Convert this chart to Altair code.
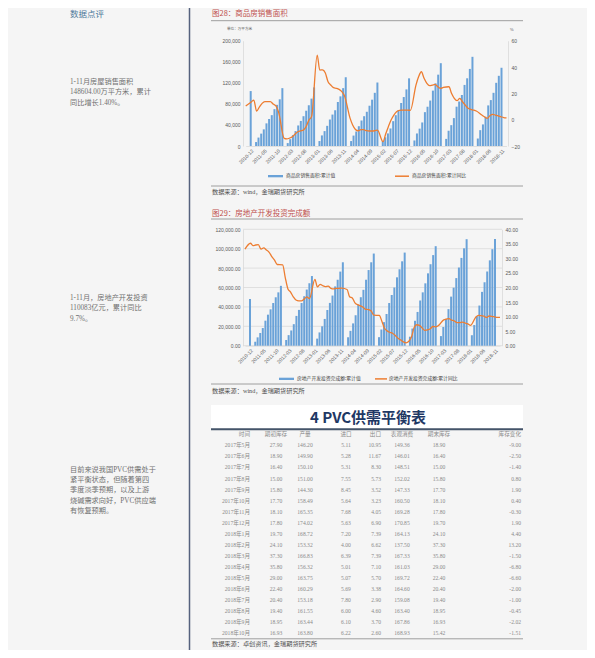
import altair as alt
import pandas as pd

# ---------------- data ----------------
months = [d.strftime("%Y-%m-%d") for d in pd.date_range("2010-12-01", "2018-11-01", freq="MS")]

# 商品房销售面积:累计值 (万平方米), Jan has no data
sales_cum = [
    104349,
    None, 7500, 16000, 23500, 31600, 43000, 51300, 58600, 70000, 78200, 88700, 109900,
    None, 5500, 13000, 20700, 28300, 39000, 47600, 56600, 67000, 77400, 90000, 111300,
    None, 9400, 20100, 28300, 38300, 50300, 59700, 67900, 83600, 94300, 109900, 130600,
    None, 9400, 19800, 27500, 37600, 48400, 56600, 65000, 76500, 88000, 101000, 120600,
    None, 9400, 16500, 23900, 33300, 47200, 58500, 67900, 81700, 93000, 107500, 128500,
    None, 10500, 23800, 33000, 44700, 64300, 74600, 86300, 105200, 119000, 135500, 157300,
    None, 13500, 29000, 39600, 53000, 74700, 84500, 96900, 116000, 128600, 146400, 169400,
    None, 14200, 30100, 41000, 55500, 77100, 87200, 101000, 120000, 133300, 148600,
]
# 商品房销售面积:累计同比 (%)
sales_yoy = [
    10.4,
    None, 13.5, 14.9, 6.6, 9.5, 12.4, 13.7, 13.7, 13.7, 11.9, 10.4, 5.6,
    None, -14.2, -14.6, -14.0, -13.0, -10.9, -9.2, -8.5, -7.9, -5.3, -0.3, 2.5,
    None, 49.1, 37.7, 37.9, 35.7, 28.8, 26.3, 24.3, 23.8, 23.0, 21.3, 18.0,
    None, 1.0, -4.0, -7.4, -8.4, -7.6, -7.6, -8.4, -8.6, -8.6, -8.4, -8.0,
    None, -16.7, -11.1, -5.3, -0.3, 3.5, 6.0, 7.1, 7.2, 7.2, 7.2, 7.1,
    None, 26.3, 32.6, 36.4, 31.4, 27.6, 25.8, 26.3, 26.8, 25.0, 23.8, 24.5,
    None, 25.0, 20.0, 16.2, 14.4, 16.2, 13.6, 11.1, 8.6, 7.8, 7.3, 6.6,
    None, 3.5, 2.2, 1.0, 3.0, 4.1, 3.5, 2.9, 2.2, 1.6, 1.4,
]
# 房地产开发投资完成额:累计值 (亿元)
inv_cum = [
    48259,
    None, 4100, 8600, 13100, 18200, 25800, 32000, 37500, 44000, 49900, 55000, 61700,
    None, 5900, 10900, 15700, 22200, 30700, 36900, 44000, 51000, 57900, 64400, 71800,
    None, 7300, 13700, 20000, 27600, 36800, 44100, 51700, 61100, 68000, 76400, 86000,
    None, 8700, 15300, 23000, 31400, 42000, 50000, 57600, 68000, 78000, 86000, 95000,
    None, 8800, 16700, 24300, 32700, 44000, 52300, 60000, 70500, 78800, 87000, 96000,
    None, 9300, 17700, 25700, 34800, 46600, 55000, 64300, 74600, 84000, 93400, 102600,
    None, 9900, 19300, 27700, 37700, 50600, 59800, 69700, 80600, 90500, 100400, 109800,
    None, 10800, 21300, 30600, 41400, 55500, 65400, 76500, 88000, 99500, 110100,
]
# 房地产开发投资完成额:累计同比 (%)
inv_yoy = [
    33.2,
    None, 35.2, 34.4, 34.6, 34.7, 33.2, 33.6, 32.9, 32.1, 30.6, 29.4, 27.9,
    None, 27.8, 23.5, 19.5, 18.4, 16.8, 15.7, 15.4, 15.4, 16.0, 16.8, 16.2,
    None, 22.8, 20.2, 21.1, 20.6, 20.3, 20.5, 19.7, 19.5, 19.7, 19.7, 19.8,
    None, 19.3, 16.8, 16.4, 14.7, 14.1, 13.7, 13.2, 12.5, 12.4, 11.9, 10.5,
    None, 10.4, 8.5, 6.0, 5.1, 4.6, 4.3, 3.5, 2.6, 2.0, 1.3, 1.0,
    None, 3.0, 6.2, 7.2, 7.0, 6.1, 5.3, 5.4, 5.8, 6.6, 6.5, 6.9,
    None, 8.9, 9.1, 9.3, 8.8, 8.5, 7.9, 7.9, 8.1, 7.8, 7.5, 7.0,
    None, 9.9, 10.4, 10.3, 10.2, 9.7, 10.2, 10.1, 9.9, 9.7, 9.7,
]

sales_left_ticks = [0, 40000, 80000, 120000, 160000, 200000]
sales_right_ticks = [-20, 0, 20, 40, 60]
inv_left_ticks = [0, 20000, 40000, 60000, 80000, 100000, 120000]
inv_right_ticks = [0, 5, 10, 15, 20, 25, 30, 35, 40]

tbl_header = ["时间", "期初库存", "产量", "进口", "出口", "表观消费", "期末库存", "库存变化"]
tbl_time = ["2017年5月", "2017年6月", "2017年7月", "2017年8月", "2017年9月", "2017年10月",
            "2017年11月", "2017年12月", "2018年1月", "2018年2月", "2018年3月", "2018年4月",
            "2018年5月", "2018年6月", "2018年7月", "2018年8月", "2018年9月", "2018年10月"]
tbl_open = [27.90, 18.90, 16.40, 15.00, 15.80, 17.70, 18.10, 17.80, 19.70, 24.10, 37.30, 35.80,
            29.00, 22.40, 20.40, 19.40, 18.95, 16.93]
tbl_prod = [146.20, 149.90, 150.10, 151.00, 144.30, 158.49, 165.35, 174.02, 168.72, 153.32, 166.83,
            156.32, 163.75, 160.29, 153.18, 161.55, 163.44, 163.80]
tbl_imp = [5.11, 5.28, 5.31, 7.55, 8.45, 5.64, 7.68, 5.63, 7.20, 4.00, 6.39, 5.01, 5.07, 5.69,
           7.80, 6.00, 6.10, 6.22]
tbl_exp = [10.95, 11.67, 8.30, 5.73, 3.52, 3.23, 4.05, 6.90, 7.39, 6.62, 7.39, 7.10, 5.70, 3.38,
           2.90, 4.60, 3.70, 2.60]
tbl_cons = [149.36, 146.01, 148.51, 152.02, 147.33, 160.50, 169.28, 170.85, 164.13, 137.50, 167.33,
            161.03, 169.72, 164.60, 159.08, 163.40, 167.86, 168.93]
tbl_close = [18.90, 16.40, 15.00, 15.80, 17.70, 18.10, 17.80, 19.70, 24.10, 37.30, 35.80, 29.00,
             22.40, 20.40, 19.40, 18.95, 16.93, 15.42]
tbl_chg = [-9.00, -2.50, -1.40, 0.80, 1.90, 0.40, -0.30, 1.90, 4.40, 13.20, -1.50, -6.80, -6.60,
           -2.00, -1.00, -0.45, -2.02, -1.51]

note1 = ["1-11月房屋销售面积", "148604.00万平方米，累计", "同比增长1.40%。"]
note2 = ["1-11月，房地产开发投资", "110083亿元，累计同比", "9.7%。"]
note3 = ["目前来说我国PVC供需处于", "紧平衡状态，但随着第四", "季度淡季预期，以及上游",
         "烧碱需求向好，PVC供应端", "有恢复预期。"]

# ---------------- layout helpers ----------------
W, H = 579, 642
def X(v): return v - 8
def Y(v): return v - 8

BG = "#f5f5f5"
SERIF = "'Liberation Serif', 'Noto Sans CJK SC', serif"
SANS = "'Liberation Sans', 'Noto Sans CJK SC', sans-serif"
CJK = "'Noto Sans CJK SC', sans-serif"
BLUE = "#6aa2d8"
ORANGE = "#ed7d31"
AXC = "#595959"
GRID = "#d9d9d9"
NOTE = "#707070"

ONE = pd.DataFrame({"k": [0]})

def label(s, x, y, size, color, font=SERIF, align="left", weight="normal"):
    return alt.Chart(ONE).mark_text(text=s, align=align, baseline="middle", fontSize=size,
                                    color=color, font=font, fontWeight=weight).encode(
        x=alt.value(X(x)), y=alt.value(Y(y)))

def hrule(x1, x2, y, color, width):
    return alt.Chart(ONE).mark_rule(color=color, strokeWidth=width).encode(
        x=alt.value(X(x1)), x2=alt.value(X(x2)), y=alt.value(Y(y)))

def vrule(x, y1, y2, color, width):
    return alt.Chart(ONE).mark_rule(color=color, strokeWidth=width).encode(
        x=alt.value(X(x)), y=alt.value(Y(y1)), y2=alt.value(Y(y2)))

def box(x1, x2, y1, y2, color):
    return alt.Chart(ONE).mark_rect(color=color).encode(
        x=alt.value(X(x1)), x2=alt.value(X(x2)), y=alt.value(Y(y1)), y2=alt.value(Y(y2)))

def yaxis(orient, xline, values, fmt, pad):
    off = -X(xline) if orient == "left" else -(W - X(xline))
    return alt.Axis(orient=orient, offset=off, values=values, format=fmt, title=None, grid=False,
                    ticks=False, labelPadding=pad, labelFontSize=5, labelColor=AXC, labelFont=SANS,
                    domainColor=GRID, domainWidth=0.8, labelOverlap=False)

tick_dates = [alt.DateTime(year=int(m[:4]), month=int(m[5:7]), date=1, utc=True) for m in months[::5]]

def xaxis(yline):
    return alt.Axis(orient="bottom", offset=-(H - Y(yline)), values=tick_dates,
                    labelExpr="utcFormat(datum.value, '%Y-%m')",
                    labelAngle=-45, title=None, grid=False, ticks=False,
                    labelPadding=2, labelFontSize=5, labelColor=AXC, labelFont=SANS,
                    domainColor=GRID, domainWidth=0.8, labelOverlap=False)

def xscale(x0, x1):
    return alt.Scale(type="utc",
                     domain=[alt.DateTime(year=2010, month=12, date=1, utc=True),
                             alt.DateTime(year=2018, month=11, date=1, utc=True)],
                     range=[X(x0), X(x1)])

df1 = pd.DataFrame({"month": months, "cum": sales_cum, "yoy": sales_yoy})
df2 = pd.DataFrame({"month": months, "cum": inv_cum, "yoy": inv_yoy})

layers = []

# page decorations
layers.append(vrule(189.5, 8, 650, "#56627e", 1.5))
layers.append(label("数据点评", 70, 14.3, 8.5, "#4f7a9a", font=CJK))
for i, s in enumerate(note1):
    layers.append(label(s, 70, 82 + i * 10.35, 7.2, NOTE))
for i, s in enumerate(note2):
    layers.append(label(s, 70, 297.7 + i * 10.65, 7.2, NOTE))
for i, s in enumerate(note3):
    layers.append(label(s, 70, 470 + i * 10.2, 7.2, NOTE))

# ---------------- chart 28 ----------------
layers.append(label("图28：商品房销售面积", 212, 14, 7.5, "#c0504d", font=CJK))
layers.append(hrule(211, 523, 20.7, "#9e9e9e", 1))
layers.append(label("单位：万平方米", 227, 29, 3.6, AXC, font=CJK))
layers.append(label("%", 510, 29.5, 4, AXC, font=SANS))

xs1 = xscale(245.7, 506.5)
ys1 = alt.Scale(domain=[0, 200000], range=[Y(146), Y(40.7)], nice=False)
yr1 = alt.Scale(domain=[-20, 60], range=[Y(146), Y(40.7)], nice=False)

layers.append(alt.Chart(df1).mark_bar(size=2, color=BLUE).encode(
    x=alt.X("month:T", scale=xs1, axis=xaxis(146)),
    y=alt.Y("cum:Q", scale=ys1, axis=yaxis("left", 243, sales_left_ticks, ",d", 3))))
layers.append(alt.Chart(df1.dropna(subset=["yoy"])).mark_line(
    color=ORANGE, strokeWidth=1.3, interpolate="monotone").encode(
    x=alt.X("month:T", scale=xs1, axis=None),
    y=alt.Y("yoy:Q", scale=yr1, axis=yaxis("right", 508, sales_right_ticks, "d", 3))))

layers.append(box(268, 283, 175, 177.3, BLUE))
layers.append(label("商品房销售面积:累计值", 286, 176.2, 4.8, "#404040", font=CJK))
layers.append(hrule(395, 409, 176.2, ORANGE, 1.5))
layers.append(label("商品房销售面积:累计同比", 412, 176.2, 4.8, "#404040", font=CJK))
layers.append(hrule(211, 523, 186, "#9e9e9e", 1))
layers.append(label("数据来源：wind，金瑞期货研究所", 212, 192.3, 6.2, "#505050"))

# ---------------- chart 29 ----------------
layers.append(label("图29：房地产开发投资完成额", 212, 213.8, 7.5, "#c0504d", font=CJK))
layers.append(hrule(211, 523, 219, "#9e9e9e", 1))

xs2 = xscale(245, 500)
ys2 = alt.Scale(domain=[0, 120000], range=[Y(345.7), Y(229.3)], nice=False)
yr2 = alt.Scale(domain=[0, 40], range=[Y(345.7), Y(229.3)], nice=False)

layers.append(alt.Chart(pd.DataFrame({"v": inv_left_ticks})).mark_rule(
    color=GRID, strokeWidth=0.8).encode(
    y=alt.Y("v:Q", scale=ys2, axis=None), x=alt.value(X(243)), x2=alt.value(X(502))))
layers.append(alt.Chart(df2).mark_bar(size=2, color=BLUE).encode(
    x=alt.X("month:T", scale=xs2, axis=xaxis(345.7)),
    y=alt.Y("cum:Q", scale=ys2, axis=yaxis("left", 243, inv_left_ticks, ",.2f", 3))))
layers.append(alt.Chart(df2.dropna(subset=["yoy"])).mark_line(
    color=ORANGE, strokeWidth=1.3, interpolate="monotone").encode(
    x=alt.X("month:T", scale=xs2, axis=None),
    y=alt.Y("yoy:Q", scale=yr2, axis=yaxis("right", 502, inv_right_ticks, ".2f", 3))))

layers.append(box(279, 294, 377.7, 380, BLUE))
layers.append(label("房地产开发投资完成额:累计值", 297, 378.9, 4.8, "#404040", font=CJK))
layers.append(hrule(375, 387, 378.9, ORANGE, 1.5))
layers.append(label("房地产开发投资完成额:累计同比", 389, 378.9, 4.8, "#404040", font=CJK))
layers.append(hrule(211, 523, 384, "#9e9e9e", 1))
layers.append(label("数据来源：wind，金瑞期货研究所", 212, 390.7, 6.2, "#505050"))

# ---------------- table ----------------
layers.append(box(211, 523, 405, 428, "#ffffff"))
layers.append(label("4 PVC供需平衡表", 368, 417.5, 15, "#1f3864", font=CJK, align="center", weight="bold"))
layers.append(hrule(211, 523, 429.2, "#44546a", 2))

def f2(v): return "%.2f" % v
cols = [tbl_time, [f2(v) for v in tbl_open], [f2(v) for v in tbl_prod], [f2(v) for v in tbl_imp],
        [f2(v) for v in tbl_exp], [f2(v) for v in tbl_cons], [f2(v) for v in tbl_close],
        [f2(v) for v in tbl_chg]]
tbl = pd.DataFrame({"row": list(range(len(tbl_time) + 1))})
for j, c in enumerate(cols):
    tbl["c%d" % j] = [tbl_header[j]] + c
col_pos = [(250, "right"), (276, "center"), (305, "center"), (346, "center"),
           (381, "right"), (402, "center"), (439, "center"), (521, "right")]
row_scale = alt.Scale(domain=[0, len(tbl_time)], range=[Y(434.3), Y(633.4)], nice=False)
for j, (xp, al) in enumerate(col_pos):
    layers.append(alt.Chart(tbl).mark_text(align=al, baseline="middle", fontSize=5.6,
                                           color="#8a8a8a", font=SERIF).encode(
        y=alt.Y("row:Q", scale=row_scale, axis=None),
        x=alt.value(X(xp)),
        text="c%d:N" % j))

layers.append(hrule(211, 523, 638.8, "#9e9e9e", 1))
layers.append(label("数据来源：卓创资讯，金瑞期货研究所", 212, 644, 6.2, "#505050"))

chart = alt.layer(*layers).resolve_scale(x="independent", y="independent").properties(
    width=W, height=H, padding=0, background=BG,
    autosize=alt.AutoSizeParams(type="none"),
).configure_view(stroke="transparent")

chart.save("out.html", embed_options={"renderer": "svg", "actions": False})
